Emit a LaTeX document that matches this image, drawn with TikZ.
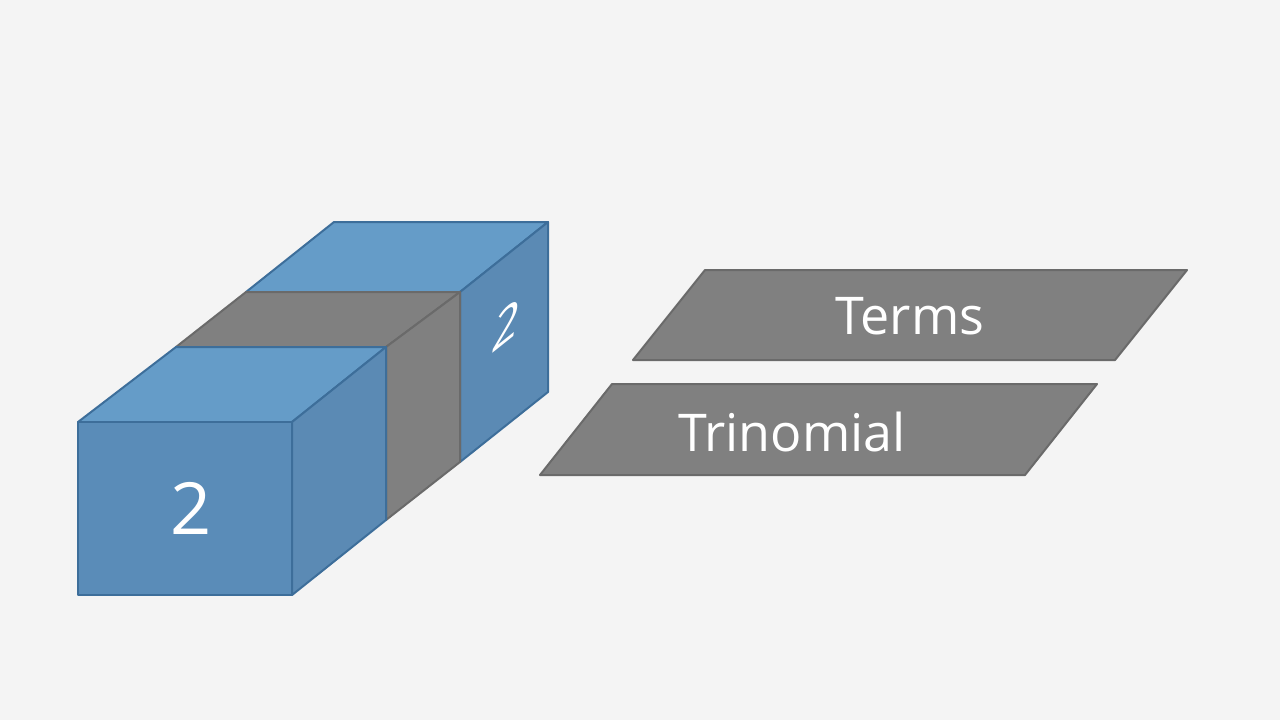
\documentclass[tikz,border=0pt]{standalone}
\usepackage{fontspec}
\setmainfont{Open Sans}
\definecolor{bg}{HTML}{F4F4F4}
\definecolor{bfront}{HTML}{5A8CB8}
\definecolor{btop}{HTML}{659CC8}
\definecolor{bside}{HTML}{5B8AB4}
\definecolor{bedge}{HTML}{3D6E9A}
\definecolor{gr}{HTML}{808080}
\definecolor{gedge}{HTML}{6A6A6A}
\tikzset{bluef/.style={draw=bedge,line width=1pt,line join=round},
grayf/.style={fill=gr,draw=gedge,line width=1pt,line join=round},
lbl/.style={text=white,font=\fontsize{26}{30}\selectfont}}
\begin{document}
\begin{tikzpicture}[x=0.5pt,y=-0.5pt]
\fill[bg] (0,0) rectangle (1280,720);
\useasboundingbox (0,0) rectangle (1280,720);
% back block
\filldraw[bluef,fill=btop] (246,292)--(460,292)--(548,222)--(334,222)--cycle;
\filldraw[bluef,fill=bside] (460,292)--(548,222)--(548,392)--(460,462)--cycle;
\node[text=white,font=\fontsize{24}{28}\selectfont\itshape,cm={1,0.8,0,1,(0,0)}] (b2) at (506,326) {2};
% middle gray
\filldraw[grayf] (176,347)--(386,347)--(460,292)--(246,292)--cycle;
\filldraw[grayf] (386,347)--(460,292)--(460,462)--(386,520)--cycle;
% front block
\filldraw[bluef,fill=btop] (78,422)--(292,422)--(386,347)--(176,347)--cycle;
\filldraw[bluef,fill=bside] (292,422)--(386,347)--(386,520)--(292,595)--cycle;
\filldraw[bluef,fill=bfront] (78,422) rectangle (292,595);
\node[text=white,font=\fontsize{36}{40}\selectfont] (f2) at (191,508) {2};
% parallelograms
\filldraw[grayf] (633,360)--(1115,360)--(1187,270)--(705,270)--cycle;
\node[lbl] (terms) at (910,316) {Terms};
\filldraw[grayf] (540,475)--(1025,475)--(1097,384)--(612,384)--cycle;
\node[lbl] (tri) at (792,432) {Trinomial};
\end{tikzpicture}
\end{document}
